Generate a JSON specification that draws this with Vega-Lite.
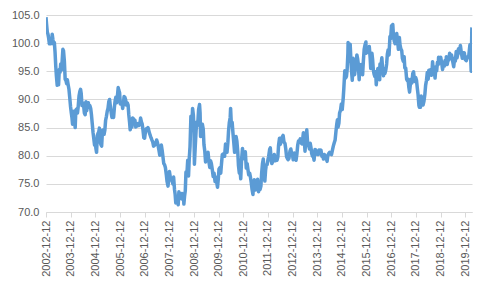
{
  "$schema": "https://vega.github.io/schema/vega-lite/v6.json",
  "autosize": {"type": "none"},
  "padding": {"left": 46, "top": 15, "right": 15, "bottom": 77},
  "width": 426,
  "height": 197,
  "background": "#ffffff",
  "config": {"view": {"stroke": null}, "font": "Liberation Sans"},
  "data": {"values": [
{"date":"2002-12-12","value":104.6},{"date":"2002-12-20","value":103.4},{"date":"2002-12-31","value":102.0},
{"date":"2003-01-10","value":101.6},{"date":"2003-01-20","value":100.9},{"date":"2003-01-31","value":99.9},
{"date":"2003-02-10","value":100.8},{"date":"2003-02-20","value":99.9},{"date":"2003-03-05","value":100.2},
{"date":"2003-03-14","value":101.6},{"date":"2003-03-25","value":100.6},{"date":"2003-04-05","value":99.8},
{"date":"2003-04-15","value":100.1},{"date":"2003-04-25","value":98.4},{"date":"2003-05-05","value":96.0},
{"date":"2003-05-15","value":94.2},{"date":"2003-05-27","value":92.5},{"date":"2003-06-05","value":93.3},
{"date":"2003-06-16","value":92.6},{"date":"2003-06-27","value":95.3},{"date":"2003-07-08","value":94.8},
{"date":"2003-07-18","value":96.3},{"date":"2003-07-28","value":95.2},{"date":"2003-08-08","value":96.8},
{"date":"2003-08-19","value":98.9},{"date":"2003-08-29","value":98.6},{"date":"2003-09-10","value":96.8},
{"date":"2003-09-22","value":93.6},{"date":"2003-10-03","value":93.4},{"date":"2003-10-14","value":92.8},
{"date":"2003-10-24","value":93.5},{"date":"2003-11-05","value":92.6},{"date":"2003-11-17","value":91.8},
{"date":"2003-11-28","value":90.4},{"date":"2003-12-10","value":88.8},{"date":"2003-12-22","value":87.6},
{"date":"2003-12-31","value":86.8},{"date":"2004-01-09","value":85.6},{"date":"2004-01-20","value":87.9},
{"date":"2004-01-30","value":87.0},{"date":"2004-02-10","value":86.2},{"date":"2004-02-17","value":85.0},
{"date":"2004-02-27","value":88.1},{"date":"2004-03-10","value":88.3},{"date":"2004-03-22","value":87.6},
{"date":"2004-04-01","value":88.6},{"date":"2004-04-14","value":90.6},{"date":"2004-04-26","value":91.4},
{"date":"2004-05-07","value":91.8},{"date":"2004-05-17","value":91.0},{"date":"2004-05-28","value":88.9},
{"date":"2004-06-10","value":89.4},{"date":"2004-06-22","value":88.8},{"date":"2004-07-02","value":87.6},
{"date":"2004-07-14","value":87.3},{"date":"2004-07-26","value":89.6},{"date":"2004-08-06","value":88.0},
{"date":"2004-08-18","value":88.9},{"date":"2004-08-30","value":89.4},{"date":"2004-09-10","value":88.6},
{"date":"2004-09-22","value":88.9},{"date":"2004-10-04","value":88.4},{"date":"2004-10-15","value":87.3},
{"date":"2004-10-27","value":85.7},{"date":"2004-11-08","value":84.1},{"date":"2004-11-19","value":83.0},
{"date":"2004-11-30","value":81.9},{"date":"2004-12-10","value":82.5},{"date":"2004-12-20","value":81.3},
{"date":"2004-12-30","value":80.6},{"date":"2005-01-10","value":83.6},{"date":"2005-01-21","value":84.0},
{"date":"2005-01-31","value":84.2},{"date":"2005-02-10","value":84.9},{"date":"2005-02-22","value":82.4},
{"date":"2005-03-04","value":82.0},{"date":"2005-03-15","value":81.7},{"date":"2005-03-28","value":84.5},
{"date":"2005-04-08","value":84.6},{"date":"2005-04-20","value":83.8},{"date":"2005-05-02","value":84.6},
{"date":"2005-05-13","value":86.3},{"date":"2005-05-25","value":87.0},{"date":"2005-06-06","value":87.9},
{"date":"2005-06-17","value":88.4},{"date":"2005-06-29","value":89.6},{"date":"2005-07-11","value":90.0},
{"date":"2005-07-22","value":88.8},{"date":"2005-08-03","value":87.7},{"date":"2005-08-15","value":86.8},
{"date":"2005-08-26","value":87.6},{"date":"2005-09-08","value":86.8},{"date":"2005-09-20","value":88.6},
{"date":"2005-09-30","value":89.7},{"date":"2005-10-12","value":90.4},{"date":"2005-10-24","value":89.4},
{"date":"2005-11-04","value":90.6},{"date":"2005-11-15","value":92.1},{"date":"2005-11-25","value":91.6},
{"date":"2005-12-06","value":91.2},{"date":"2005-12-16","value":89.2},{"date":"2005-12-30","value":89.5},
{"date":"2006-01-10","value":89.5},{"date":"2006-01-20","value":88.4},{"date":"2006-01-31","value":89.2},
{"date":"2006-02-10","value":90.5},{"date":"2006-02-22","value":90.4},{"date":"2006-03-06","value":89.9},
{"date":"2006-03-17","value":89.0},{"date":"2006-03-30","value":89.4},{"date":"2006-04-11","value":89.0},
{"date":"2006-04-21","value":87.3},{"date":"2006-05-03","value":85.9},{"date":"2006-05-12","value":84.6},
{"date":"2006-05-25","value":85.6},{"date":"2006-06-06","value":85.1},{"date":"2006-06-16","value":86.7},
{"date":"2006-06-28","value":86.6},{"date":"2006-07-10","value":85.8},{"date":"2006-07-21","value":86.3},
{"date":"2006-08-02","value":85.1},{"date":"2006-08-14","value":85.6},{"date":"2006-08-25","value":85.3},
{"date":"2006-09-07","value":85.7},{"date":"2006-09-19","value":85.4},{"date":"2006-10-02","value":85.6},
{"date":"2006-10-13","value":86.7},{"date":"2006-10-25","value":86.0},{"date":"2006-11-06","value":85.6},
{"date":"2006-11-17","value":84.6},{"date":"2006-11-30","value":83.2},{"date":"2006-12-11","value":83.1},
{"date":"2006-12-21","value":84.0},{"date":"2007-01-05","value":84.8},{"date":"2007-01-17","value":84.8},
{"date":"2007-01-30","value":85.0},{"date":"2007-02-09","value":84.6},{"date":"2007-02-21","value":84.0},
{"date":"2007-03-05","value":83.6},{"date":"2007-03-16","value":83.2},{"date":"2007-03-29","value":82.8},
{"date":"2007-04-10","value":82.5},{"date":"2007-04-23","value":81.7},{"date":"2007-05-04","value":81.8},
{"date":"2007-05-16","value":82.0},{"date":"2007-05-29","value":82.3},{"date":"2007-06-08","value":82.8},
{"date":"2007-06-20","value":82.3},{"date":"2007-07-02","value":81.6},{"date":"2007-07-13","value":80.9},
{"date":"2007-07-24","value":80.1},{"date":"2007-08-06","value":80.6},{"date":"2007-08-16","value":81.9},
{"date":"2007-08-29","value":80.9},{"date":"2007-09-10","value":79.7},{"date":"2007-09-21","value":78.6},
{"date":"2007-10-03","value":78.4},{"date":"2007-10-15","value":77.9},{"date":"2007-10-29","value":76.6},
{"date":"2007-11-08","value":75.5},{"date":"2007-11-23","value":74.6},{"date":"2007-12-04","value":76.0},
{"date":"2007-12-14","value":77.2},{"date":"2007-12-28","value":76.1},{"date":"2008-01-10","value":75.7},
{"date":"2008-01-22","value":75.5},{"date":"2008-02-04","value":75.0},{"date":"2008-02-14","value":76.2},
{"date":"2008-02-27","value":74.0},{"date":"2008-03-07","value":73.2},{"date":"2008-03-17","value":71.6},
{"date":"2008-03-28","value":72.0},{"date":"2008-04-09","value":72.4},{"date":"2008-04-22","value":71.3},
{"date":"2008-05-02","value":73.6},{"date":"2008-05-14","value":72.9},{"date":"2008-05-27","value":72.4},
{"date":"2008-06-06","value":72.4},{"date":"2008-06-18","value":73.3},{"date":"2008-06-30","value":72.2},
{"date":"2008-07-10","value":72.6},{"date":"2008-07-15","value":71.4},{"date":"2008-07-25","value":72.8},
{"date":"2008-08-05","value":73.8},{"date":"2008-08-15","value":77.1},{"date":"2008-08-27","value":76.4},
{"date":"2008-09-10","value":79.2},{"date":"2008-09-22","value":76.4},{"date":"2008-10-02","value":79.4},
{"date":"2008-10-14","value":81.6},{"date":"2008-10-27","value":87.0},{"date":"2008-11-06","value":84.5},
{"date":"2008-11-21","value":88.4},{"date":"2008-12-03","value":87.2},{"date":"2008-12-12","value":84.2},
{"date":"2008-12-18","value":78.5},{"date":"2008-12-31","value":81.8},{"date":"2009-01-12","value":84.5},
{"date":"2009-01-23","value":86.0},{"date":"2009-02-04","value":85.4},{"date":"2009-02-18","value":88.2},
{"date":"2009-03-04","value":89.1},{"date":"2009-03-12","value":87.6},{"date":"2009-03-19","value":83.4},
{"date":"2009-04-01","value":85.0},{"date":"2009-04-15","value":85.6},{"date":"2009-04-28","value":84.7},
{"date":"2009-05-08","value":82.0},{"date":"2009-05-20","value":80.9},{"date":"2009-06-01","value":78.9},
{"date":"2009-06-12","value":80.3},{"date":"2009-06-24","value":80.2},{"date":"2009-07-08","value":80.6},
{"date":"2009-07-21","value":78.9},{"date":"2009-08-03","value":77.9},{"date":"2009-08-14","value":79.1},
{"date":"2009-08-26","value":78.6},{"date":"2009-09-08","value":77.6},{"date":"2009-09-22","value":76.3},
{"date":"2009-10-05","value":76.9},{"date":"2009-10-20","value":75.4},{"date":"2009-11-03","value":76.2},
{"date":"2009-11-13","value":75.3},{"date":"2009-11-25","value":74.4},{"date":"2009-12-07","value":75.9},
{"date":"2009-12-17","value":77.6},{"date":"2009-12-31","value":77.9},{"date":"2010-01-12","value":76.9},
{"date":"2010-01-22","value":78.4},{"date":"2010-02-04","value":80.2},{"date":"2010-02-16","value":80.3},
{"date":"2010-02-26","value":80.3},{"date":"2010-03-10","value":79.9},{"date":"2010-03-24","value":82.1},
{"date":"2010-04-05","value":81.2},{"date":"2010-04-15","value":80.6},{"date":"2010-04-28","value":82.4},
{"date":"2010-05-07","value":84.3},{"date":"2010-05-19","value":85.9},{"date":"2010-06-01","value":86.8},
{"date":"2010-06-07","value":88.4},{"date":"2010-06-18","value":85.5},{"date":"2010-06-30","value":85.9},
{"date":"2010-07-12","value":84.0},{"date":"2010-07-23","value":82.5},{"date":"2010-08-05","value":80.6},
{"date":"2010-08-17","value":82.6},{"date":"2010-08-27","value":83.4},{"date":"2010-09-08","value":82.6},
{"date":"2010-09-21","value":80.7},{"date":"2010-10-01","value":78.3},{"date":"2010-10-14","value":76.9},
{"date":"2010-10-25","value":77.4},{"date":"2010-11-04","value":75.9},{"date":"2010-11-16","value":79.2},
{"date":"2010-11-30","value":81.3},{"date":"2010-12-10","value":79.7},{"date":"2010-12-21","value":80.6},
{"date":"2011-01-03","value":79.4},{"date":"2011-01-11","value":80.7},{"date":"2011-01-25","value":77.8},
{"date":"2011-02-07","value":78.6},{"date":"2011-02-18","value":77.6},{"date":"2011-03-02","value":76.6},
{"date":"2011-03-16","value":76.9},{"date":"2011-03-29","value":76.1},{"date":"2011-04-08","value":75.3},
{"date":"2011-04-21","value":74.0},{"date":"2011-05-04","value":73.1},{"date":"2011-05-13","value":75.4},
{"date":"2011-05-24","value":75.7},{"date":"2011-06-06","value":73.9},{"date":"2011-06-17","value":75.5},
{"date":"2011-06-30","value":74.3},{"date":"2011-07-12","value":75.8},{"date":"2011-07-26","value":73.6},
{"date":"2011-08-05","value":74.7},{"date":"2011-08-17","value":74.0},{"date":"2011-08-30","value":74.6},
{"date":"2011-09-09","value":76.8},{"date":"2011-09-22","value":78.6},{"date":"2011-10-04","value":79.4},
{"date":"2011-10-14","value":77.2},{"date":"2011-10-27","value":75.5},{"date":"2011-11-07","value":77.4},
{"date":"2011-11-18","value":78.4},{"date":"2011-11-30","value":78.4},{"date":"2011-12-12","value":79.3},
{"date":"2011-12-23","value":79.9},{"date":"2012-01-06","value":81.1},{"date":"2012-01-16","value":81.4},
{"date":"2012-01-30","value":79.1},{"date":"2012-02-08","value":78.6},{"date":"2012-02-23","value":79.0},
{"date":"2012-03-05","value":79.6},{"date":"2012-03-15","value":80.2},{"date":"2012-03-29","value":79.1},
{"date":"2012-04-10","value":79.8},{"date":"2012-04-24","value":79.2},{"date":"2012-05-07","value":79.8},
{"date":"2012-05-17","value":81.8},{"date":"2012-05-31","value":83.1},{"date":"2012-06-11","value":82.0},
{"date":"2012-06-22","value":82.4},{"date":"2012-07-06","value":83.2},{"date":"2012-07-24","value":83.6},
{"date":"2012-08-06","value":82.4},{"date":"2012-08-20","value":82.2},{"date":"2012-08-31","value":81.3},
{"date":"2012-09-13","value":79.8},{"date":"2012-09-25","value":79.5},{"date":"2012-10-05","value":79.3},
{"date":"2012-10-18","value":79.5},{"date":"2012-11-02","value":80.8},{"date":"2012-11-15","value":81.2},
{"date":"2012-11-29","value":80.2},{"date":"2012-12-11","value":80.0},{"date":"2012-12-20","value":79.3},
{"date":"2013-01-04","value":80.5},{"date":"2013-01-15","value":79.8},{"date":"2013-01-31","value":79.2},
{"date":"2013-02-12","value":80.2},{"date":"2013-02-25","value":81.9},{"date":"2013-03-08","value":82.6},
{"date":"2013-03-21","value":82.6},{"date":"2013-04-03","value":83.0},{"date":"2013-04-15","value":82.3},
{"date":"2013-04-29","value":82.1},{"date":"2013-05-08","value":82.8},{"date":"2013-05-20","value":84.1},
{"date":"2013-06-03","value":82.6},{"date":"2013-06-13","value":80.8},{"date":"2013-06-25","value":82.9},
{"date":"2013-07-09","value":84.6},{"date":"2013-07-22","value":82.2},{"date":"2013-08-05","value":81.8},
{"date":"2013-08-19","value":81.2},{"date":"2013-08-29","value":82.2},{"date":"2013-09-10","value":81.4},
{"date":"2013-09-20","value":80.4},{"date":"2013-10-02","value":79.9},{"date":"2013-10-17","value":79.8},
{"date":"2013-10-25","value":79.2},{"date":"2013-11-07","value":81.1},{"date":"2013-11-20","value":81.0},
{"date":"2013-12-03","value":80.6},{"date":"2013-12-16","value":80.2},{"date":"2013-12-27","value":80.2},
{"date":"2014-01-09","value":81.0},{"date":"2014-01-23","value":80.5},{"date":"2014-02-04","value":81.0},
{"date":"2014-02-18","value":79.9},{"date":"2014-03-04","value":80.1},{"date":"2014-03-13","value":79.4},
{"date":"2014-03-26","value":80.2},{"date":"2014-04-07","value":80.0},{"date":"2014-04-18","value":79.8},
{"date":"2014-05-06","value":79.0},{"date":"2014-05-16","value":80.0},{"date":"2014-05-30","value":80.4},
{"date":"2014-06-12","value":80.6},{"date":"2014-06-26","value":80.3},{"date":"2014-07-10","value":80.2},
{"date":"2014-07-24","value":81.0},{"date":"2014-08-06","value":81.7},{"date":"2014-08-20","value":82.3},
{"date":"2014-09-02","value":82.8},{"date":"2014-09-15","value":84.4},{"date":"2014-09-26","value":85.6},
{"date":"2014-10-06","value":86.4},{"date":"2014-10-15","value":85.1},{"date":"2014-10-28","value":85.8},
{"date":"2014-11-07","value":87.6},{"date":"2014-11-21","value":88.1},{"date":"2014-12-03","value":89.2},
{"date":"2014-12-16","value":88.2},{"date":"2014-12-31","value":90.3},{"date":"2015-01-09","value":92.0},
{"date":"2015-01-23","value":95.1},{"date":"2015-02-03","value":93.8},{"date":"2015-02-17","value":94.1},
{"date":"2015-02-27","value":95.3},{"date":"2015-03-10","value":98.2},{"date":"2015-03-13","value":100.1},
{"date":"2015-03-25","value":96.8},{"date":"2015-04-02","value":97.4},{"date":"2015-04-13","value":99.8},
{"date":"2015-04-24","value":96.9},{"date":"2015-05-06","value":94.6},{"date":"2015-05-14","value":93.4},
{"date":"2015-05-27","value":97.3},{"date":"2015-06-05","value":96.3},{"date":"2015-06-18","value":94.4},
{"date":"2015-06-29","value":95.6},{"date":"2015-07-10","value":96.0},{"date":"2015-07-21","value":97.9},
{"date":"2015-07-31","value":97.3},{"date":"2015-08-10","value":96.4},{"date":"2015-08-24","value":93.5},
{"date":"2015-09-04","value":96.2},{"date":"2015-09-17","value":94.8},{"date":"2015-09-29","value":96.2},
{"date":"2015-10-14","value":94.4},{"date":"2015-10-26","value":97.0},{"date":"2015-11-06","value":98.9},
{"date":"2015-11-19","value":99.7},{"date":"2015-12-02","value":100.2},{"date":"2015-12-04","value":98.2},
{"date":"2015-12-16","value":98.9},{"date":"2015-12-30","value":98.4},{"date":"2016-01-08","value":98.6},
{"date":"2016-01-21","value":99.4},{"date":"2016-02-03","value":97.3},{"date":"2016-02-11","value":95.5},
{"date":"2016-02-29","value":98.2},{"date":"2016-03-10","value":97.1},{"date":"2016-03-21","value":95.2},
{"date":"2016-04-01","value":94.5},{"date":"2016-04-12","value":94.1},{"date":"2016-04-25","value":94.9},
{"date":"2016-05-03","value":92.6},{"date":"2016-05-16","value":94.6},{"date":"2016-05-27","value":95.5},
{"date":"2016-06-08","value":93.9},{"date":"2016-06-23","value":93.5},{"date":"2016-06-27","value":96.3},
{"date":"2016-07-12","value":96.0},{"date":"2016-07-25","value":97.4},{"date":"2016-08-04","value":95.6},
{"date":"2016-08-18","value":94.2},{"date":"2016-08-26","value":95.5},{"date":"2016-09-08","value":94.6},
{"date":"2016-09-21","value":95.2},{"date":"2016-10-04","value":96.3},{"date":"2016-10-14","value":98.0},
{"date":"2016-10-26","value":98.8},{"date":"2016-11-08","value":97.9},{"date":"2016-11-22","value":101.2},
{"date":"2016-12-02","value":100.8},{"date":"2016-12-15","value":103.1},{"date":"2016-12-28","value":102.9},
{"date":"2017-01-03","value":103.3},{"date":"2017-01-13","value":101.2},{"date":"2017-01-26","value":100.3},
{"date":"2017-02-06","value":99.9},{"date":"2017-02-21","value":101.2},{"date":"2017-03-02","value":101.7},
{"date":"2017-03-16","value":100.3},{"date":"2017-03-27","value":98.9},{"date":"2017-04-10","value":101.0},
{"date":"2017-04-20","value":99.7},{"date":"2017-05-02","value":99.0},{"date":"2017-05-15","value":98.7},
{"date":"2017-05-25","value":97.3},{"date":"2017-06-07","value":96.8},{"date":"2017-06-20","value":97.6},
{"date":"2017-06-30","value":95.6},{"date":"2017-07-13","value":95.6},{"date":"2017-07-27","value":93.6},
{"date":"2017-08-08","value":93.3},{"date":"2017-08-17","value":93.6},{"date":"2017-08-29","value":92.1},
{"date":"2017-09-08","value":91.3},{"date":"2017-09-20","value":92.7},{"date":"2017-10-02","value":93.6},
{"date":"2017-10-12","value":92.9},{"date":"2017-10-26","value":94.6},{"date":"2017-11-07","value":94.9},
{"date":"2017-11-17","value":93.6},{"date":"2017-11-28","value":93.2},{"date":"2017-12-08","value":93.9},
{"date":"2017-12-20","value":93.4},{"date":"2018-01-02","value":91.9},{"date":"2018-01-12","value":90.9},
{"date":"2018-01-25","value":88.9},{"date":"2018-02-01","value":88.6},{"date":"2018-02-12","value":90.4},
{"date":"2018-02-16","value":88.6},{"date":"2018-02-28","value":90.6},{"date":"2018-03-13","value":89.8},
{"date":"2018-03-27","value":89.0},{"date":"2018-04-10","value":89.7},{"date":"2018-04-23","value":90.9},
{"date":"2018-05-04","value":92.5},{"date":"2018-05-17","value":93.4},{"date":"2018-05-29","value":94.8},
{"date":"2018-06-11","value":93.6},{"date":"2018-06-21","value":95.2},{"date":"2018-07-03","value":94.6},
{"date":"2018-07-19","value":95.3},{"date":"2018-07-30","value":94.3},{"date":"2018-08-08","value":95.2},
{"date":"2018-08-15","value":96.7},{"date":"2018-08-28","value":94.8},{"date":"2018-09-07","value":95.4},
{"date":"2018-09-21","value":93.8},{"date":"2018-10-04","value":95.8},{"date":"2018-10-15","value":95.1},
{"date":"2018-10-26","value":96.6},{"date":"2018-11-07","value":96.2},{"date":"2018-11-12","value":97.5},
{"date":"2018-11-26","value":96.9},{"date":"2018-12-07","value":96.5},{"date":"2018-12-14","value":97.5},
{"date":"2018-12-31","value":96.2},{"date":"2019-01-10","value":95.3},{"date":"2019-01-23","value":96.3},
{"date":"2019-02-04","value":95.9},{"date":"2019-02-15","value":96.9},{"date":"2019-02-28","value":96.2},
{"date":"2019-03-07","value":97.6},{"date":"2019-03-20","value":96.2},{"date":"2019-04-01","value":97.0},
{"date":"2019-04-12","value":97.0},{"date":"2019-04-25","value":98.2},{"date":"2019-05-08","value":97.6},
{"date":"2019-05-23","value":97.9},{"date":"2019-06-05","value":97.0},{"date":"2019-06-24","value":95.8},
{"date":"2019-07-08","value":97.3},{"date":"2019-07-18","value":96.8},{"date":"2019-07-31","value":98.5},
{"date":"2019-08-12","value":97.4},{"date":"2019-08-23","value":98.0},{"date":"2019-09-03","value":99.0},
{"date":"2019-09-16","value":98.3},{"date":"2019-10-01","value":99.6},{"date":"2019-10-15","value":98.3},
{"date":"2019-10-30","value":97.3},{"date":"2019-11-12","value":98.3},{"date":"2019-11-28","value":98.3},
{"date":"2019-12-12","value":97.1},{"date":"2019-12-27","value":96.9},{"date":"2020-01-08","value":97.3},
{"date":"2020-01-21","value":97.6},{"date":"2020-02-03","value":97.8},{"date":"2020-02-19","value":99.7},
{"date":"2020-02-28","value":98.1},{"date":"2020-03-09","value":95.0},{"date":"2020-03-13","value":98.7},
{"date":"2020-03-19","value":102.8}
  ]},
  "mark": {"type": "line", "color": "#5B9BD5", "strokeWidth": 3.5, "strokeJoin": "round", "clip": true},
  "encoding": {
    "x": {
      "field": "date",
      "type": "temporal",
      "scale": {"type": "utc", "domain": [{"year": 2002, "month": 12, "date": 12, "utc": true}, {"year": 2020, "month": 3, "date": 21, "utc": true}]},
      "axis": {
        "title": null,
        "values": [
          {"year": 2002, "month": 12, "date": 12, "utc": true},
          {"year": 2003, "month": 12, "date": 12, "utc": true},
          {"year": 2004, "month": 12, "date": 12, "utc": true},
          {"year": 2005, "month": 12, "date": 12, "utc": true},
          {"year": 2006, "month": 12, "date": 12, "utc": true},
          {"year": 2007, "month": 12, "date": 12, "utc": true},
          {"year": 2008, "month": 12, "date": 12, "utc": true},
          {"year": 2009, "month": 12, "date": 12, "utc": true},
          {"year": 2010, "month": 12, "date": 12, "utc": true},
          {"year": 2011, "month": 12, "date": 12, "utc": true},
          {"year": 2012, "month": 12, "date": 12, "utc": true},
          {"year": 2013, "month": 12, "date": 12, "utc": true},
          {"year": 2014, "month": 12, "date": 12, "utc": true},
          {"year": 2015, "month": 12, "date": 12, "utc": true},
          {"year": 2016, "month": 12, "date": 12, "utc": true},
          {"year": 2017, "month": 12, "date": 12, "utc": true},
          {"year": 2018, "month": 12, "date": 12, "utc": true},
          {"year": 2019, "month": 12, "date": 12, "utc": true}
        ],
        "labelExpr": "utcFormat(datum.value, '%Y-%m-%d')",
        "labelAngle": 270,
        "labelAlign": "right",
        "labelBaseline": "middle",
        "labelPadding": 3,
        "labelFontSize": 11,
        "labelColor": "#595959",
        "labelOverlap": false,
        "labelFlush": false,
        "tickSize": 5,
        "tickColor": "#D9D9D9",
        "domainColor": "#D9D9D9",
        "grid": false
      }
    },
    "y": {
      "field": "value",
      "type": "quantitative",
      "scale": {"domain": [70, 105], "nice": false, "zero": false},
      "axis": {
        "title": null,
        "values": [70, 75, 80, 85, 90, 95, 100, 105],
        "format": ".1f",
        "labelPadding": 7,
        "labelFontSize": 11,
        "labelColor": "#595959",
        "ticks": false,
        "domain": false,
        "grid": true,
        "gridColor": "#D9D9D9",
        "gridWidth": 1
      }
    }
  }
}
